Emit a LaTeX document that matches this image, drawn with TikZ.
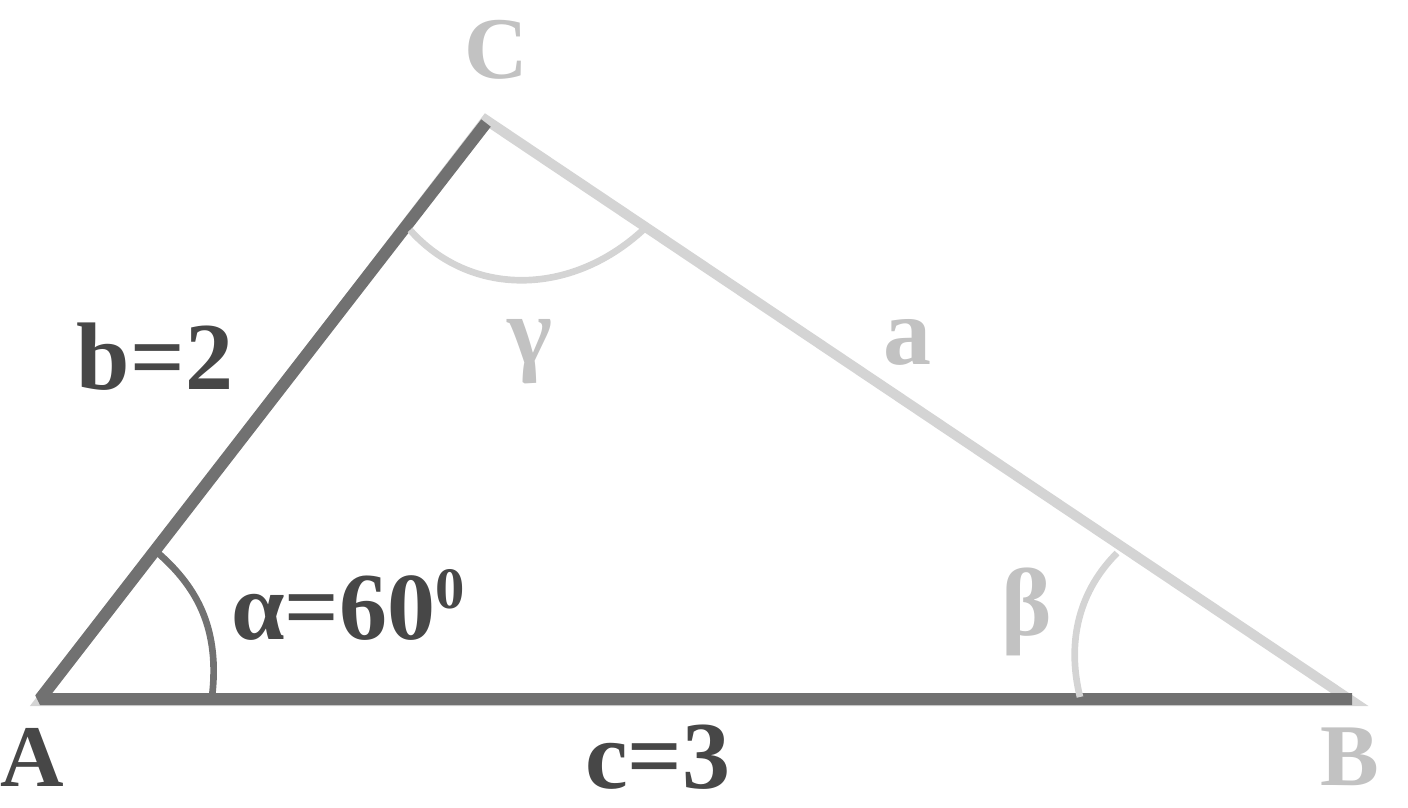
\documentclass[tikz,border=0pt]{standalone}
\usepackage{fontspec}
\setmainfont{Liberation Serif}
\definecolor{darkline}{HTML}{717171}
\definecolor{lightline}{HTML}{D4D4D4}
\definecolor{darktext}{HTML}{474747}
\definecolor{lighttext}{HTML}{C2C2C2}
\tikzset{every picture/.style={line width=0.75pt}}
\tikzset{
  darkedge/.style={draw=darkline, line width=9pt, line join=bevel},
  lightedge/.style={draw=lightline, line width=7.5pt, line join=miter},
  darkarc/.style={draw=darkline, line width=5pt},
  lightarc/.style={draw=lightline, line width=5pt},
  darklabel/.style={text=darktext, inner sep=0pt, font=\fontsize{72}{72}\selectfont\bfseries},
  lightlabel/.style={text=lighttext, inner sep=0pt, font=\fontsize{72}{72}\selectfont\bfseries},
  vertexlabel/.style={inner sep=0pt, font=\fontsize{66}{66}\selectfont\bfseries}
}
\newcommand{\degsup}[1]{\raisebox{23pt}{\fontsize{44}{44}\selectfont #1}}
\begin{document}
\begin{tikzpicture}[x=0.75pt,y=0.75pt,yscale=-1,xscale=1]
	\useasboundingbox (0,0) rectangle (1408,807);

	%Vertices
	\coordinate (A) at (40,699);
	\coordinate (B) at (1352,699);
	\coordinate (C) at (486,123);

	%Shape: Triangle (light)
	\draw [lightedge]  (40,701) -- (1352,701) -- (486,120) -- cycle ;
	%Straight Lines (dark)
	\draw [darkedge]  (C) -- (A) -- (B) ;

	%Curve Lines [angle A]
	\draw [darkarc]   (158,553) .. controls (198,588) and (220,630) .. (212,697) ;
	%Curve Lines [angle C]
	\draw [lightarc]  (410,230) .. controls (470,297) and (570,297) .. (643,230) ;
	%Curve Lines [angle B]
	\draw [lightarc]  (1117,553) .. controls (1080,590) and (1066,640) .. (1080,697) ;

	% Text Node
	\node [vertexlabel, text=darktext] (labA) at (32,757) {A};
	% Text Node
	\node [vertexlabel, text=lighttext] (labB) at (1350,757) {B};
	% Text Node
	\node [vertexlabel, text=lighttext] (labC) at (496,50) {C};
	% Text Node
	\node [darklabel] (sideb) at (155,357) {b=2};
	% Text Node
	\node [darklabel] (sidec) at (658,757) {c=3};
	% Text Node
	\node [lightlabel] (sidea) at (907,342) {a};
	% Text Node
	\node [darklabel] (alpha) at (348,605) {α=60\degsup{0}};
	% Text Node
	\node [lightlabel] (beta) at (1027,612) {β};
	% Text Node
	\node [lightlabel] (gamma) at (530,352) {γ};

\end{tikzpicture}
\end{document}
